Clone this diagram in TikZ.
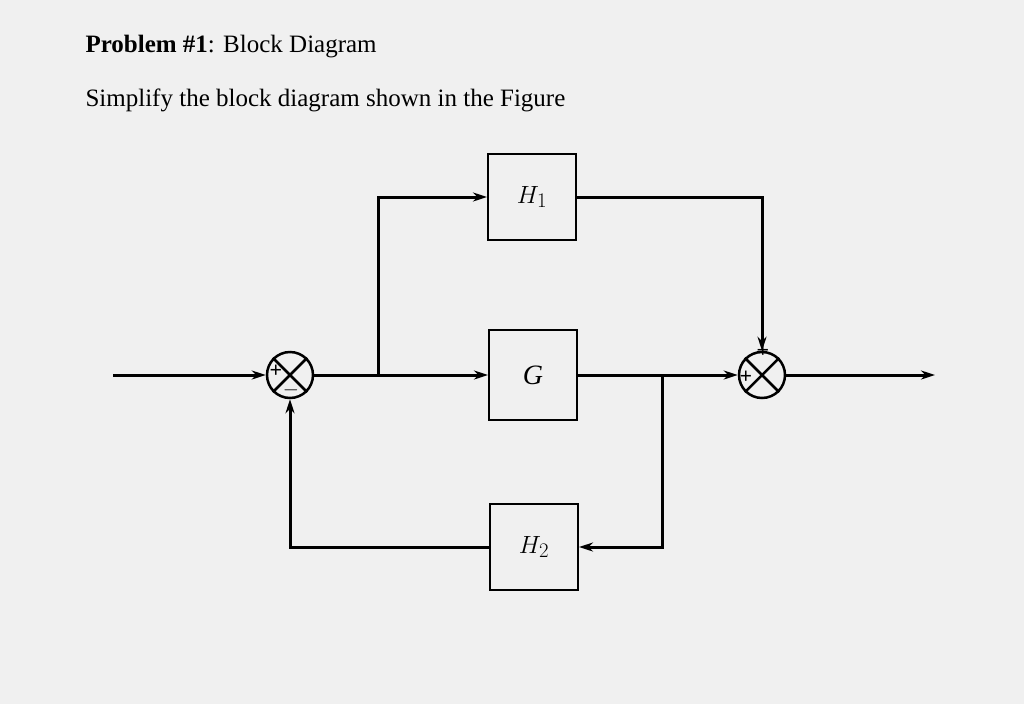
\documentclass[tikz,border=0pt]{standalone}
\usepackage{fontspec}
\setmainfont{Liberation Serif}
\usetikzlibrary{arrows.meta}
\begin{document}
\begin{tikzpicture}[x=1pt,y=-1pt,
  blk/.style={draw,line width=2pt,minimum width=88pt,minimum height=86pt,font=\fontsize{28}{32}\selectfont},
  sumj/.style={draw,line width=2.5pt,circle,minimum size=46pt,inner sep=0pt},
  wire/.style={line width=3pt},
  arr/.style={wire,-{Stealth[length=14pt,width=9pt]}},
  sgn/.style={font=\fontsize{22}{22}\selectfont\bfseries,inner sep=0pt}]
\fill[gray!12] (0,0) rectangle (1024,704);
\useasboundingbox (0,0) rectangle (1024,704);
\node[anchor=base west,font=\fontsize{25}{30}\selectfont] (t1) at (82,52) {\textbf{Problem \#1}: Block Diagram};
\node[anchor=base west,font=\fontsize{25}{30}\selectfont] (t2) at (82,106) {Simplify the block diagram shown in the Figure};
\node[blk] (H1) at (532,197) {$H_1$};
\node[blk,minimum height=90pt] (G) at (533,375) {\textit{G}};
\node[blk] (H2) at (534,547) {$H_2$};
\node[sumj] (S1) at (290,375) {};
\node[sumj] (S2) at (762,375) {};
\foreach \s in {S1,S2}{
  \draw[line width=2.5pt] (\s.north east) -- (\s.south west) (\s.north west) -- (\s.south east);}
\node[sgn] (p1) at (276,371) {+};
\node[sgn] (m1) at (291,390) {$-$};
\node[sgn] (p2) at (763,351) {+};
\node[sgn] (p3) at (746,377) {+};
\coordinate (in) at (113,375);
\coordinate (out) at (935,375);
\coordinate (b1) at (378,375);
\coordinate (b2) at (662,375);
\draw[arr] (in) -- (S1.west);
\draw[arr] (S1.east) -- (G.west);
\draw[arr] (b1) |- (H1.west);
\draw[arr] (H1.east) -| (S2.north);
\draw[arr] (G.east) -- (S2.west);
\draw[arr] (b2) |- (H2.east);
\draw[arr] (H2.west) -| (S1.south);
\draw[arr] (S2.east) -- (out);
\end{tikzpicture}
\end{document}
